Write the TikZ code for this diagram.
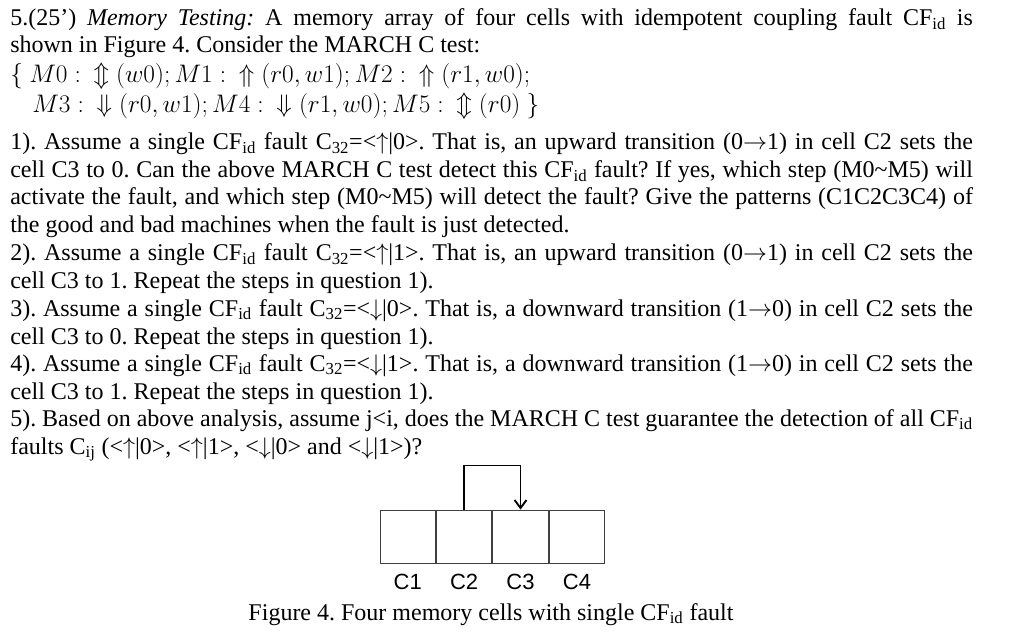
\documentclass[tikz,border=0pt]{standalone}
\usepackage{fix-cm}
\usepackage{fontspec}
\setmainfont{Liberation Serif}
\newfontfamily\arialf{Liberation Sans}
\usetikzlibrary{positioning}
\usetikzlibrary{arrows.meta}
\frenchspacing
\newcommand{\cfid}{CF\textsubscript{id}}
\newcommand{\jline}[1]{\makebox[722pt][s]{#1}}
\newcommand{\up}{$\uparrow$}
\newcommand{\dn}{$\downarrow$}
\newcommand{\ra}{$\rightarrow$}
\tikzset{
  txt/.style={anchor=base west,inner sep=0pt,font=\fontsize{18pt}{20.7pt}\selectfont},
  mth/.style={txt,font=\fontsize{19pt}{22pt}\selectfont},
  cell/.style={draw=black!75,line width=0.7pt,minimum width=41.6pt,minimum height=39.75pt,inner sep=0pt},
  clab/.style={inner sep=0pt,font=\arialf\fontsize{16.5pt}{18pt}\selectfont}
}
\begin{document}
\begin{tikzpicture}[x=0.75pt,y=-0.75pt]
\useasboundingbox (0,0) rectangle (1025,638);
% problem text
\node[txt] (l1) at (10,26) {\jline{5.(25’) \textit{Memory Testing:} A memory array of four cells with idempotent coupling fault \cfid{} is}};
\node[txt] (l2) at (10,53) {shown in Figure 4. Consider the MARCH C test:};
\node[mth] (m1) at (10,83) {$\{\ M0:\ \ \Updownarrow(w0); M1:\ \ \Uparrow(r0,w1); M2:\ \ \Uparrow(r1,w0);$};
\node[mth] (m2) at (32,113) {$M3:\ \ \Downarrow(r0,w1); M4:\ \ \Downarrow(r1,w0); M5:\ \ \Updownarrow(r0)\ \}$};
\node[txt] (q1a) at (10,150) {\jline{1). Assume a single \cfid{} fault C\textsubscript{32}=<\up|0>. That is, an upward transition (0\ra1) in cell C2 sets the}};
\node[txt] (q1b) at (10,178) {\jline{cell C3 to 0. Can the above MARCH C test detect this \cfid{} fault? If yes, which step (M0\char`~M5) will}};
\node[txt] (q1c) at (10,205) {\jline{activate the fault, and which step (M0\char`~M5) will detect the fault? Give the patterns (C1C2C3C4) of}};
\node[txt] (q1d) at (10,233) {the good and bad machines when the fault is just detected.};
\node[txt] (q2a) at (10,261) {\jline{2). Assume a single \cfid{} fault C\textsubscript{32}=<\up|1>. That is, an upward transition (0\ra1) in cell C2 sets the}};
\node[txt] (q2b) at (10,288) {cell C3 to 1. Repeat the steps in question 1).};
\node[txt] (q3a) at (10,316) {\jline{3). Assume a single \cfid{} fault C\textsubscript{32}=<\dn|0>. That is, a downward transition (1\ra0) in cell C2 sets the}};
\node[txt] (q3b) at (10,344) {cell C3 to 0. Repeat the steps in question 1).};
\node[txt] (q4a) at (10,371) {\jline{4). Assume a single \cfid{} fault C\textsubscript{32}=<\dn|1>. That is, a downward transition (1\ra0) in cell C2 sets the}};
\node[txt] (q4b) at (10,399) {cell C3 to 1. Repeat the steps in question 1).};
\node[txt] (q5a) at (10,426) {\jline{5). Based on above analysis, assume j<i, does the MARCH C test guarantee the detection of all \cfid}};
\node[txt] (q5b) at (10,454) {faults C\textsubscript{ij} (<\up|0>, <\up|1>, <\dn|0> and <\dn|1>)?};
% memory cells
\node[cell] (c1) at (407.75,536.5) {};
\node[cell,right=0pt of c1] (c2) {};
\node[cell,right=0pt of c2] (c3) {};
\node[cell,right=0pt of c3] (c4) {};
\foreach \i in {1,...,4}
  \node[clab] (t\i) at ([yshift=-34pt]c\i.center) {C\i};
\draw[line width=1.4pt,-{Straight Barb[length=6pt,width=9pt]}] (c2.north) -- ++(0,-44) -| (c3.north);
\node[txt,anchor=base] (cap) at (491,620) {Figure 4. Four memory cells with single \cfid{} fault};
\end{tikzpicture}
\end{document}
